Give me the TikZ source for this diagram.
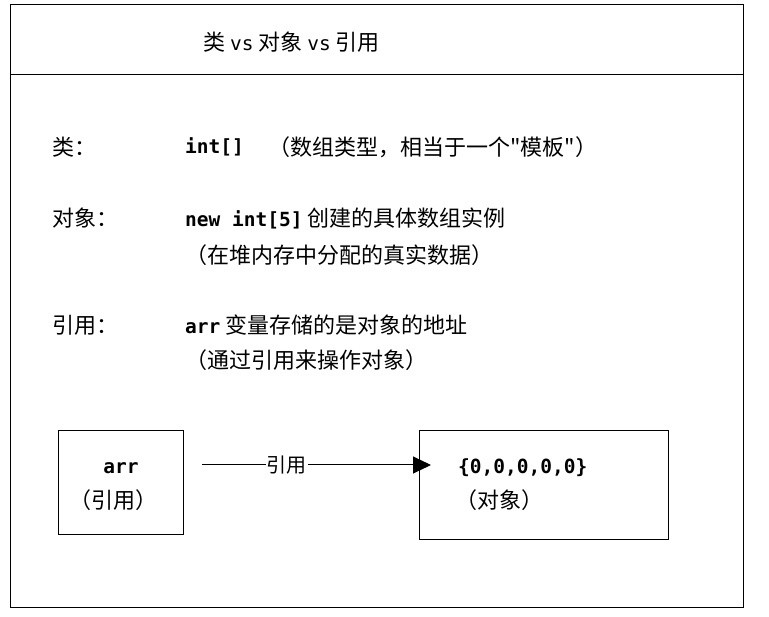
\documentclass[tikz,border=0pt]{standalone}
\usepackage{fontspec}
\setmainfont{Noto Sans CJK SC}
\newfontfamily\cjk{Noto Sans CJK SC}
\newfontfamily\monof{DejaVu Sans Mono}
\newcommand\mono{\monof\fontsize{19.5}{22}\selectfont}
\usetikzlibrary{arrows.meta}
\begin{document}
\begin{tikzpicture}[x=1pt,y=-1pt,
  txt/.style={anchor=west,inner sep=0pt,font=\fontsize{22}{24}\selectfont\cjk},
  boxx/.style={draw,line width=1pt,inner sep=0pt}]
\useasboundingbox (0,0) rectangle (769,617);
\draw[line width=1pt] (10,5) rectangle (743,607);
\draw[line width=1pt] (10,75) -- (743,75);
\node[txt] (title) at (203,42) {类 {\mono vs} 对象 {\mono vs} 引用};
\node[txt] (l1) at (52,147) {类：};
\node[txt] (c1) at (185,147) {{\mono\bfseries int[]}};
\node[txt] (d1) at (268,147) {（数组类型，相当于一个"模板"）};
\node[txt] (l2) at (52,218) {对象：};
\node[txt] (c2) at (185,218) {{\mono\bfseries new int[5]} 创建的具体数组实例};
\node[txt] (d2) at (185,255) {（在堆内存中分配的真实数据）};
\node[txt] (l3) at (52,325) {引用：};
\node[txt] (c3) at (185,325) {{\mono\bfseries arr} 变量存储的是对象的地址};
\node[txt] (d3) at (185,360) {（通过引用来操作对象）};
\node[boxx,minimum width=125pt,minimum height=104pt] (ref) at (120.5,483) {};
\node[boxx,minimum width=249pt,minimum height=109pt] (obj) at (543.5,485.5) {};
\node[txt,anchor=center] (refa) at (121,468) {{\mono\bfseries arr}};
\node[txt,anchor=center] (refb) at (113,500) {（引用）};
\node[txt] (obja) at (458,468) {{\mono\bfseries \{0,0,0,0,0\}}};
\node[txt] (objb) at (455,500) {（对象）};
\coordinate (as) at (202,465);
\coordinate (ae) at (431,465);
\draw[line width=1pt,-{Triangle[length=18pt,width=17pt]}] (as) -- (ae)
  node[pos=0.37,fill=white,inner sep=1pt,font=\fontsize{20}{22}\selectfont\cjk] (al) {引用};
\end{tikzpicture}
\end{document}
